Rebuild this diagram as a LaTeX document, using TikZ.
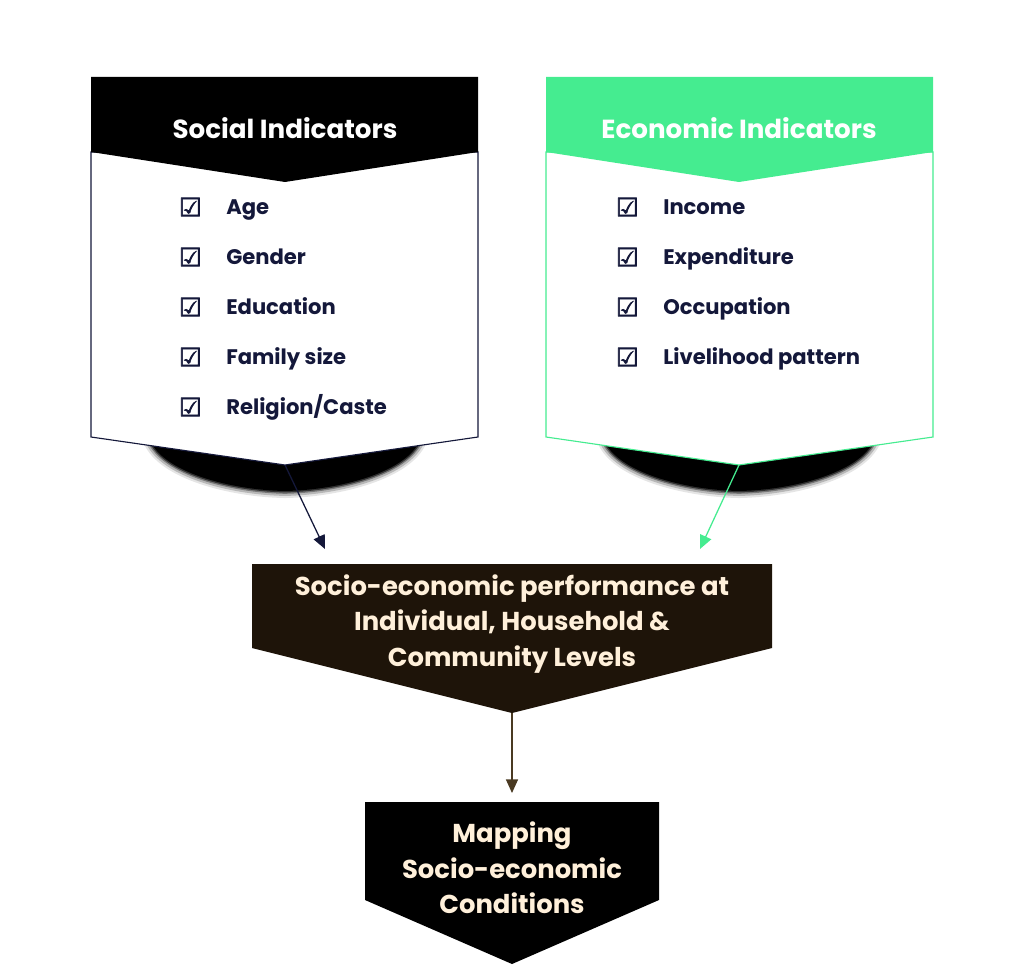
\documentclass[tikz,border=0pt]{standalone}
\usepackage{fontspec}
\setmainfont{Poppins}
\newfontfamily\symfont[FakeBold=2.5]{DejaVu Sans}
\usetikzlibrary{arrows.meta,positioning}
\definecolor{Ink}{HTML}{14183A}
\definecolor{Mint}{HTML}{45EC90}
\definecolor{Umber}{HTML}{1E1409}
\definecolor{Cream}{HTML}{FFF0DA}
\definecolor{Bark}{HTML}{4A3A22}
\tikzset{
  head/.style={font=\fontsize{18.6}{22}\selectfont\bfseries, align=center, text=white},
  item/.style={font=\fontsize{15}{18}\selectfont\bfseries, anchor=west, inner sep=0pt,
    text height=1.1em, text depth=0pt, text=Ink},
  tick/.style={font=\symfont\fontsize{18}{20}\selectfont, inner sep=0pt, text=Ink},
  blocktext/.style={font=\fontsize{18.4}{25.4}\selectfont\bfseries, align=center, text=Cream},
  link/.style={-{Triangle[length=3.4mm,width=3mm]}, line width=0.9pt}
}

\begin{document}
\begin{tikzpicture}[x=0.025cm,y=-0.025cm]
  \useasboundingbox (0,0) rectangle (1024,978);

  % shadows under the two panels
  \foreach \w/\o in {10/0.10,7/0.2,4/0.35,2/0.6} {
    \draw[line width=\w pt, opacity=\o, line join=round] (150,440) .. controls (163,472) and (230,490) .. (285,491) .. controls (340,490) and (407,472) .. (420,440) -- cycle;
    \draw[line width=\w pt, opacity=\o, line join=round] (604,440) .. controls (617,472) and (684,490) .. (739,491) .. controls (794,490) and (861,472) .. (874,440) -- cycle;
  }
  \fill (150,440) .. controls (163,472) and (230,490) .. (285,491) .. controls (340,490) and (407,472) .. (420,440) -- cycle;
  \fill (604,440) .. controls (617,472) and (684,490) .. (739,491) .. controls (794,490) and (861,472) .. (874,440) -- cycle;

  % social panel
  \filldraw[fill=white, draw=Ink, line width=0.8pt] (91,152) -- (91,437) -- (285,465) -- (478,437) -- (478,152) -- cycle;
  \fill[black] (91,77) -- (478,77) -- (478,152) -- (285,182) -- (91,152) -- cycle;
  \node[head] (social) at (285,128) {Social Indicators};
  \coordinate (socTip) at (285,465);

  \node[item] (age) at (226,207) {Age};
  \node[item] (gender) at (226,257) {Gender};
  \node[item] (edu) at (226,307) {Education};
  \node[item] (family) at (226,357) {Family size};
  \node[item] (religion) at (226,407) {Religion/Caste};
  \foreach \n in {age,gender,edu,family,religion}
    \node[tick, left=0.6cm of \n] {☑};

  % economic panel
  \filldraw[fill=white, draw=Mint, line width=0.8pt] (546,152) -- (546,437) -- (739,465) -- (933,437) -- (933,152) -- cycle;
  \fill[Mint] (546,77) -- (933,77) -- (933,152) -- (739,182) -- (546,152) -- cycle;
  \node[head] (economic) at (739,128) {Economic Indicators};
  \coordinate (ecoTip) at (739,465);

  \node[item] (income) at (663,207) {Income};
  \node[item] (spend) at (663,257) {Expenditure};
  \node[item] (occup) at (663,307) {Occupation};
  \node[item] (liveli) at (663,357) {Livelihood pattern};
  \foreach \n in {income,spend,occup,liveli}
    \node[tick, left=0.6cm of \n] {☑};

  % performance block
  \fill[Umber] (252,564) -- (772,564) -- (772,648) -- (512,713) -- (252,648) -- cycle;
  \node[blocktext] (perf) at (512,624) {Socio-economic performance at\\Individual, Household \&\\Community Levels};
  \coordinate (perfL) at (325,549);
  \coordinate (perfR) at (700,549);
  \coordinate (perfTip) at (512,713);

  % mapping block
  \fill[black] (365,802) -- (659,802) -- (659,900) -- (512,964) -- (365,900) -- cycle;
  \node[blocktext] (mapping) at (512,868) {Mapping\\Socio-economic\\Conditions};
  \coordinate (mapIn) at (512,793);

  \draw[link, Ink] (socTip) -- (perfL);
  \draw[link, Mint] (ecoTip) -- (perfR);
  \draw[link, Bark] (perfTip) -- (mapIn);
\end{tikzpicture}
\end{document}
